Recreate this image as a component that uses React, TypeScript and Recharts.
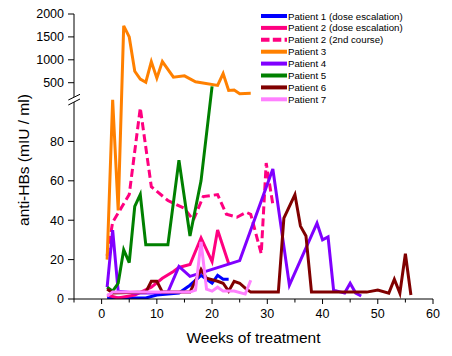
import { LineChart, Line, XAxis, YAxis } from 'recharts';

// values: week of treatment -> anti-HBs (mIU/ml)
const p1Weeks = [1, 8, 10, 14, 16, 18, 20, 21, 22, 23];
const p1Vals = [0.5, 0.5, 2, 3, 7, 12, 8, 12, 10, 10];

const p2Weeks = [1, 3, 6, 9, 11, 13, 14, 16, 18, 20, 21, 23];
const p2Vals = [2, 0.5, 2, 6, 10.5, 14, 16, 17.5, 31, 19, 35, 18];

const p2bWeeks = [1, 2, 5, 7, 9, 12, 15, 16.6, 18.4, 21, 22.6, 24.5, 26.2, 27, 28.9, 29.8, 31];
const p2bVals = [22, 39, 53, 97, 57, 50, 46, 40, 52, 53, 43, 41.5, 44, 43, 23, 69, 48];

const p3Weeks = [1, 2, 3, 4, 5, 6, 7, 8, 9, 10, 11, 13, 15, 17, 21, 22, 23, 24, 25, 27];
const p3Vals = [20, 140, 45, 1740, 1500, 750, 580, 510, 960, 600, 960, 620, 650, 520, 440, 700, 330, 340, 260, 270];

const p4Weeks = [1, 2, 3, 6, 9, 12, 14, 16, 25, 31, 34, 39, 40, 41, 42, 44, 45, 46, 47];
const p4Vals = [6, 35, 4, 3, 3, 3.5, 16.5, 11.5, 19.5, 66, 7, 38.5, 30, 31.5, 4.5, 3, 8, 3, 1.5];

const p5Weeks = [1, 2, 3, 4, 5, 6, 7, 8, 12, 14, 16, 18, 20];
const p5Vals = [6, 4, 8, 25, 18.5, 47, 53, 27.5, 27.5, 70.5, 32, 60, 420];

const p6Weeks = [1, 2, 8, 9, 10, 11, 16, 18, 19, 21, 22, 23, 24, 25, 26, 27, 32, 33, 35, 36, 37, 38, 47, 48, 50, 52, 53, 54, 55, 56];
const p6Vals = [5, 3, 3.5, 9, 9, 3.5, 3.5, 15, 10.5, 9, 8, 4, 9, 8, 5.5, 3.5, 3.5, 41, 53, 37, 32, 3.5, 3.5, 3.5, 4.5, 3, 10, 3, 23, 2];

const p7Weeks = [1, 2, 16, 17, 18, 19, 20, 21, 22, 24, 26, 27];
const p7Vals = [1.5, 3.5, 3.5, 4.5, 29, 5, 4, 6, 4, 4, 2.5, 9.5];

const Y_TICKS = [0, 20, 40, 60, 80, 500, 1000, 1500, 2000];
const X_TICKS = [-5, 0, 5, 10, 15, 20, 25, 30, 35, 40, 45, 50, 55, 60];

const zip = (w: number[], v: number[]) => w.map((week, i) => ({ week, value: v[i] }));

const SERIES = [
  { key: 'p1', name: 'Patient 1 (dose escalation)', color: '#0000FF', data: zip(p1Weeks, p1Vals) },
  { key: 'p2', name: 'Patient 2 (dose escalation)', color: '#FF0080', data: zip(p2Weeks, p2Vals) },
  { key: 'p2b', name: 'Patient 2 (2nd course)', color: '#FF0080', dashed: true, data: zip(p2bWeeks, p2bVals) },
  { key: 'p3', name: 'Patient 3', color: '#FF8000', data: zip(p3Weeks, p3Vals) },
  { key: 'p4', name: 'Patient 4', color: '#8000FF', data: zip(p4Weeks, p4Vals) },
  { key: 'p5', name: 'Patient 5', color: '#008000', data: zip(p5Weeks, p5Vals) },
  { key: 'p6', name: 'Patient 6', color: '#800000', data: zip(p6Weeks, p6Vals) },
  { key: 'p7', name: 'Patient 7', color: '#FF80FF', data: zip(p7Weeks, p7Vals) },
];

const FONT = '"Liberation Sans", Arial, sans-serif';

// broken y axis: 0-100 fills the lower part, 200-2000 is squeezed on top
const LOW = 0.6912;
const GAP = 0.0195;
const HIGH = 1 - LOW - GAP;

function frac(v: number) {
  if (v <= 100) return (v / 100) * LOW;
  if (v <= 200) return LOW + ((v - 100) / 100) * GAP;
  return LOW + GAP + ((v - 200) / 1800) * HIGH;
}

function brokenScale(): any {
  let dom = [0, 2000];
  let rng = [1, 0];
  const s: any = (v: number) => rng[0] + (rng[1] - rng[0]) * frac(v);
  s.domain = function (d?: number[]) {
    if (d === undefined) return dom.slice();
    dom = d.slice();
    return s;
  };
  s.range = function (r?: number[]) {
    if (r === undefined) return rng.slice();
    rng = r.slice();
    return s;
  };
  s.copy = () => brokenScale().domain(dom).range(rng);
  s.ticks = () => Y_TICKS;
  s.tickFormat = () => (v: number) => String(v);
  s.clamp = () => s;
  s.nice = () => s;
  s.unknown = () => s;
  return s;
}

function XTick({ x, y, payload }: any) {
  const major = payload.value % 10 === 0;
  return (
    <g>
      <line x1={x} x2={x} y1={y} y2={y + (major ? 5 : 3.5)} stroke="#000" strokeWidth={1} />
      {major && (
        <text x={x} y={y + 18.5} textAnchor="middle" fontSize={12.5} fontFamily={FONT} fill="#000">
          {payload.value}
        </text>
      )}
    </g>
  );
}

export default function App() {
  return (
    <div style={{ position: 'absolute', left: 0, top: 0, width: 452, height: 356, background: '#fff' }}>
      <LineChart width={452} height={356} margin={{ top: 14, right: 19, bottom: 27, left: 18 }}>
        <XAxis
          type="number"
          dataKey="week"
          domain={[-5, 60]}
          ticks={X_TICKS}
          interval={0}
          allowDataOverflow
          height={30}
          tickSize={0}
          tickMargin={0}
          tickLine={false}
          axisLine={{ stroke: '#000' }}
          tick={<XTick />}
        />
        <YAxis
          type="number"
          dataKey="value"
          domain={[0, 2000]}
          scale={brokenScale()}
          ticks={Y_TICKS}
          interval={0}
          allowDataOverflow
          width={56}
          tickSize={6}
          tickMargin={4}
          tickLine={{ stroke: '#000' }}
          axisLine={{ stroke: '#000' }}
          tick={{ fill: '#000', fontSize: 12.5, fontFamily: FONT }}
        />
        {SERIES.map((s) => (
          <Line
            key={s.key}
            data={s.data}
            dataKey="value"
            name={s.name}
            stroke={s.color}
            strokeWidth={3}
            strokeDasharray={s.dashed ? '8 4' : undefined}
            dot={false}
            activeDot={false}
            isAnimationActive={false}
          />
        ))}
      </LineChart>

      <svg
        width={452}
        height={356}
        style={{ position: 'absolute', left: 0, top: 0, pointerEvents: 'none' }}
        fontFamily={FONT}
      >
        {/* axis break */}
        <polygon points="69,99.5 79,94.5 79,99.5 69,104.5" fill="#fff" />
        <line x1={68.3} y1={100} x2={80} y2={94.3} stroke="#000" strokeWidth={1} />
        <line x1={68.3} y1={105} x2={80} y2={99} stroke="#000" strokeWidth={1} />

        <text x={253.5} y={343.3} textAnchor="middle" fontSize={15.5} fill="#000">
          Weeks of treatment
        </text>
        <text x={29} y={160} textAnchor="middle" fontSize={15.5} fill="#000" transform="rotate(-90 29 160)">
          anti-HBs (mIU / ml)
        </text>

        {SERIES.map((s, i) => {
          const y = 16 + i * 11.9;
          return (
            <g key={s.key}>
              <line x1={261} x2={287} y1={y} y2={y} stroke={s.color} strokeWidth={4}
                strokeDasharray={s.dashed ? '8.5 3.3' : undefined} />
              <text x={288} y={y} dominantBaseline="central" fontSize={9.7} fill="#000">
                {s.name}
              </text>
            </g>
          );
        })}
      </svg>
    </div>
  );
}
